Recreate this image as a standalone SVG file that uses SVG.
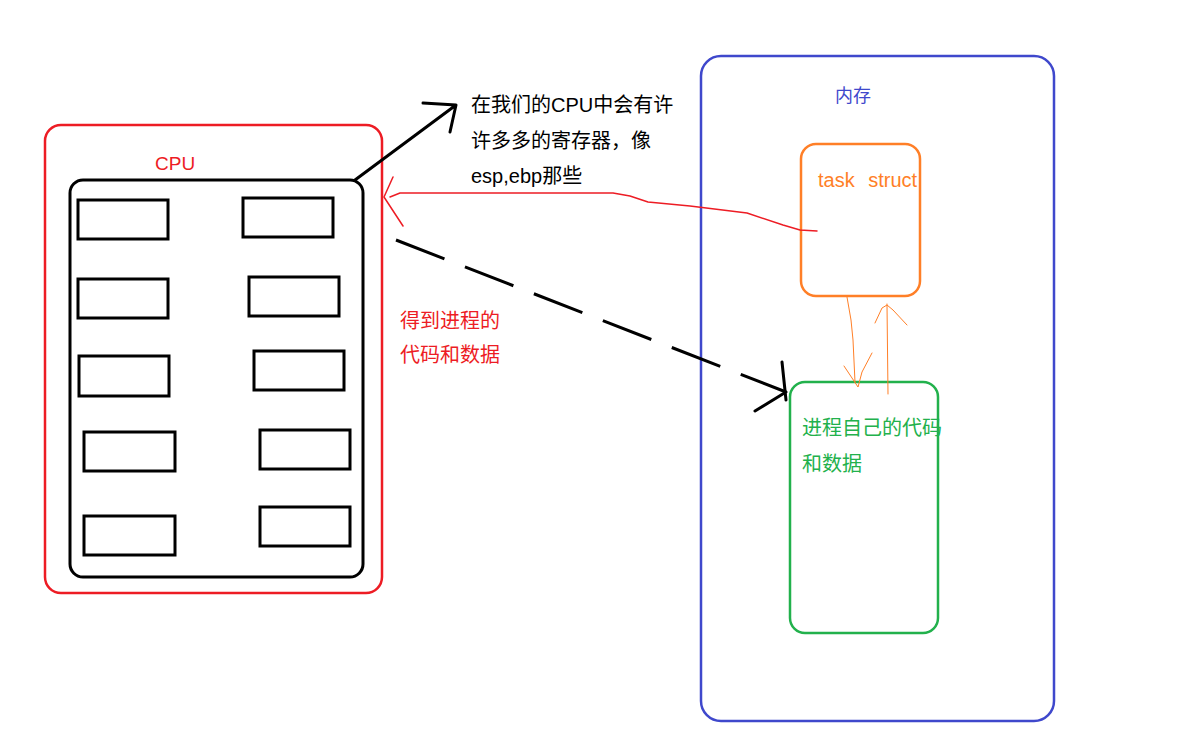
<svg xmlns="http://www.w3.org/2000/svg" width="1193" height="751" viewBox="0 0 1193 751">
<style>
.t{font-family:"Liberation Sans","Noto Sans CJK SC",sans-serif;font-size:20px}
.reg{fill:none;stroke:#000;stroke-width:3}
</style>
<rect width="1193" height="751" fill="#fff"/>
<g id="cpu">
<rect x="45" y="125" width="337" height="468" rx="16" fill="none" stroke="#ed1c24" stroke-width="2.5"/>
<text class="t" x="155" y="170" fill="#ed1c24" style="font-size:19px">CPU</text>
</g>
<g id="registers">
<rect x="70" y="180" width="293" height="397" rx="13" fill="none" stroke="#000" stroke-width="3"/>
<rect class="reg" x="78" y="200" width="90" height="39"/>
<rect class="reg" x="243" y="198" width="90" height="39"/>
<rect class="reg" x="78" y="279" width="90" height="39"/>
<rect class="reg" x="249" y="277" width="90" height="39"/>
<rect class="reg" x="79" y="356" width="90" height="40"/>
<rect class="reg" x="254" y="351" width="90" height="39"/>
<rect class="reg" x="84" y="432" width="91" height="39"/>
<rect class="reg" x="260" y="430" width="90" height="39"/>
<rect class="reg" x="84" y="516" width="91" height="39"/>
<rect class="reg" x="260" y="507" width="90" height="39"/>
</g>
<g id="note">
<text class="t" x="471" y="112" fill="#000">在我们的CPU中会有许</text>
<text class="t" x="471" y="148" fill="#000">许多多的寄存器，像</text>
<text class="t" x="471" y="183" fill="#000">esp,ebp那些</text>
</g>
<g id="label-get">
<text class="t" x="400" y="328" fill="#ed1c24">得到进程的</text>
<text class="t" x="400" y="362" fill="#ed1c24">代码和数据</text>
</g>
<g id="memory">
<rect x="701" y="56" width="353" height="665" rx="20" fill="none" stroke="#3f48cc" stroke-width="2.5"/>
<text class="t" x="835" y="102" fill="#3f48cc" style="font-size:18px">内存</text>
</g>
<g id="task-struct">
<rect x="801" y="144" width="119" height="152" rx="15" fill="none" stroke="#ff7f27" stroke-width="2.5"/>
<text class="t" x="818" y="187" fill="#ff7f27" style="word-spacing:8px">task struct</text>
</g>
<g id="process-data">
<rect x="790" y="382" width="148" height="251" rx="15" fill="none" stroke="#22b14c" stroke-width="2.5"/>
<text class="t" x="802" y="435" fill="#22b14c">进程自己的代码</text>
<text class="t" x="802" y="471" fill="#22b14c">和数据</text>
</g>
<g id="connectors" fill="none" stroke-linecap="round" stroke-linejoin="round">
<path d="M355 180 L456 105 M423 103 L456 105 L450 132" stroke="#000" stroke-width="3"/>
<path d="M817 231 L800 230 L783 225 L747 213 L690 206 L648 202 L630 196 L613 193 L400 193 L390 197 M393 177 L384 197 L403 226" stroke="#ed1c24" stroke-width="1.5"/>
<path d="M396 240 L786 392" stroke="#000" stroke-width="3" stroke-dasharray="52 22" stroke-linecap="butt"/>
<path d="M782 362 L786 400 M755 411 L786 392" stroke="#000" stroke-width="3"/>
<path d="M847 297 L851 320 L853 340 L855 382 M844 366 L858 387 L862 372 L872 353" stroke="#ff7f27" stroke-width="1"/>
<path d="M888 394 L887 304 M875 323 L882 308 L887 305 L893 310 L907 325" stroke="#ff7f27" stroke-width="1"/>
</g>
</svg>
